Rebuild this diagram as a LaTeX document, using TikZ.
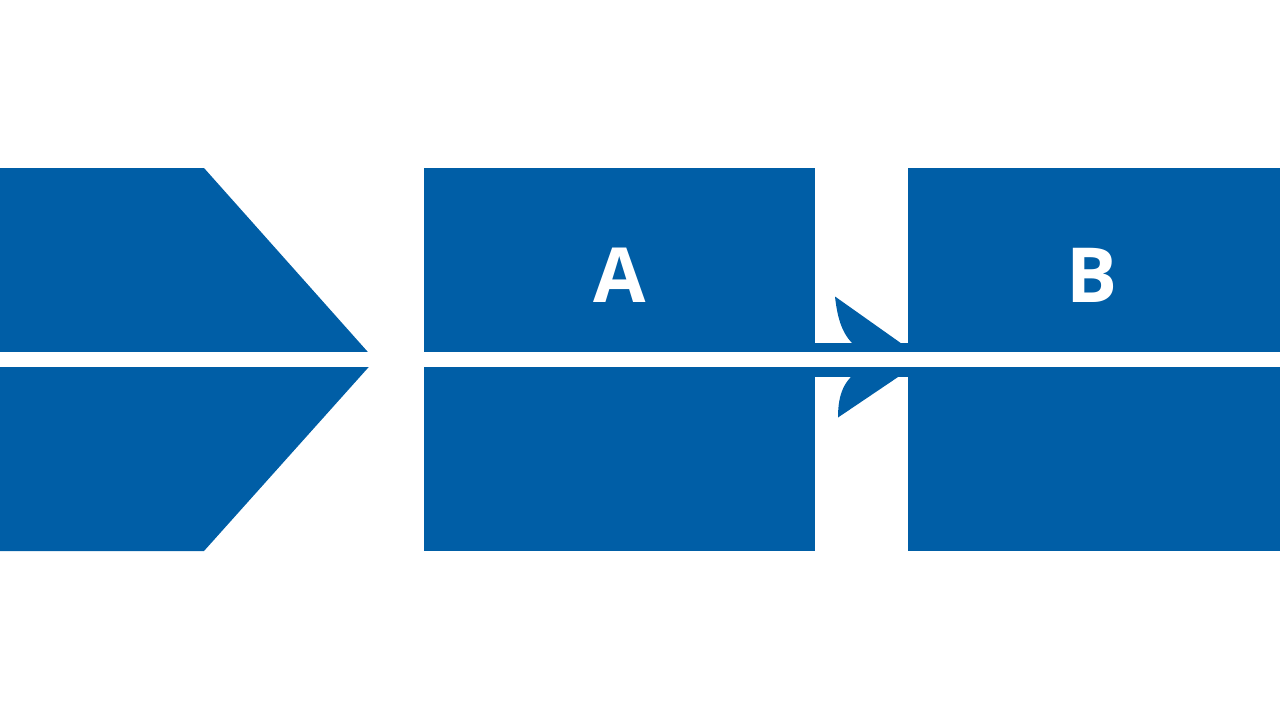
\documentclass[tikz,border=0pt]{standalone}
\usepackage{fontspec}
\setmainfont{Open Sans}
\definecolor{mblue}{RGB}{0,94,166}
\begin{document}
\begin{tikzpicture}[x=1pt,y=-1pt,
  box/.style={rectangle, fill=mblue, draw=none, inner sep=0pt, outer sep=0pt},
  lbl/.style={text=white, font=\fontsize{76}{76}\selectfont\bfseries, inner sep=0pt}]
\useasboundingbox (0,0) rectangle (1280,720);
% left pentagon
\fill[mblue] (0,168) -- (204,168) -- (375,360) -- (204,551) -- (0,551) -- cycle;
% boxes
\node[box, minimum width=391pt, minimum height=383pt] (A) at (619.5,359.5) {};
\node[box, minimum width=372pt, minimum height=383pt] (B) at (1094,359.5) {};
% connector
\draw[mblue, line width=34pt] (A.east) -- (B.west);
\coordinate (tip) at ([xshift=16pt]B.west);
\fill[mblue] (tip) -- ++(-89,-63) .. controls ++(3,28) and ++(-15,-10) .. ++(25,53)
  -- ++(0,20) .. controls ++(-15,10) and ++(0,-25) .. ++(-22,48) -- cycle;
% white separating line
\fill[white] (0,352) rectangle (1280,367);
% labels
\node[lbl] (la) at (620,275) {A};
\node[lbl] (lb) at (1092,275) {B};
\end{tikzpicture}
\end{document}
